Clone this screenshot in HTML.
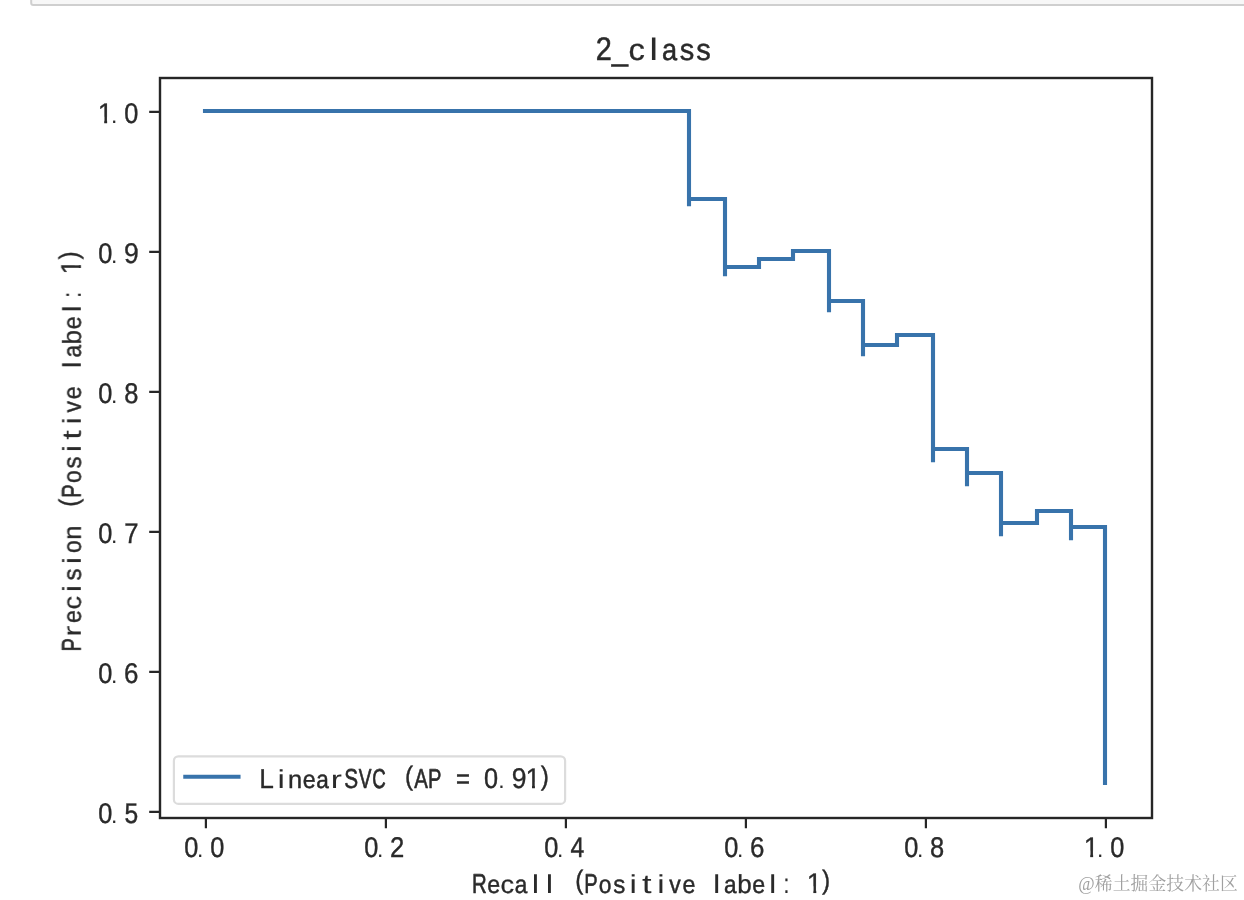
<!DOCTYPE html>
<html lang="en">
<head>
<meta charset="utf-8">
<title>2_class precision-recall curve</title>
<style>
html,body{margin:0;padding:0;background:#fff;}
body{width:1244px;height:900px;overflow:hidden;font-family:"Liberation Sans",sans-serif;}
svg{display:block;}
text{white-space:pre;}
</style>
</head>
<body>
<svg width="1244" height="900" viewBox="0 0 1244 900" role="img" aria-label="Precision-recall curve, 2_class, LinearSVC (AP = 0.91)">
<defs><clipPath id="k1" clipPathUnits="userSpaceOnUse"><path d="M-10 -120H120V-22H34.9V3H24.2V-22H-10Z"/></clipPath><filter id="soft" x="0" y="0" width="1244" height="900" filterUnits="userSpaceOnUse" color-interpolation-filters="sRGB"><feGaussianBlur stdDeviation="0.6"/></filter><filter id="softt" x="0" y="0" width="1244" height="900" filterUnits="userSpaceOnUse" color-interpolation-filters="sRGB"><feGaussianBlur stdDeviation="0.72"/></filter></defs>
<rect width="1244" height="900" fill="#fff"/>
<g filter="url(#soft)">
<rect x="31.2" y="-3" width="1220" height="7.9" rx="2" fill="#f7f7f7" stroke="#cfcfcf" stroke-width="2"/>
<rect x="160.0" y="78.0" width="992.0" height="740.0" fill="none" stroke="#262626" stroke-width="2.4"/>
<path d="M205.9 818.0V828.2M385.9 818.0V828.2M565.9 818.0V828.2M745.9 818.0V828.2M925.9 818.0V828.2M1105.9 818.0V828.2M160.0 111.9H149.2M160.0 251.9H149.2M160.0 391.9H149.2M160.0 531.9H149.2M160.0 671.9H149.2M160.0 811.9H149.2" stroke="#262626" stroke-width="2.2" fill="none"/>
<path d="M1105 783V527H1071V540.3V511H1037V523H1001V536.3V473H967V486.3V449H933V462.3V335H897V345H863V356.3V301H829V312.3V251H793V259H759V267H725V276.3V199H689V206.3V111H205" fill="none" stroke="#3873ab" stroke-width="4.1" stroke-linecap="square" stroke-linejoin="miter"/>
<rect x="173.9" y="756.3" width="391.2" height="47.6" rx="4.5" fill="#fff" fill-opacity=".8" stroke="#dcdcdc" stroke-width="2.2"/>
<path d="M185.2 776.8H238.6" stroke="#3873ab" stroke-width="3.9" stroke-linecap="square"/>
</g>
<g filter="url(#softt)" font-family="'Liberation Sans', sans-serif" font-size="100" text-rendering="geometricPrecision" fill="#2a2a2a" stroke="#2a2a2a" stroke-linejoin="round"><g><text transform="translate(595.68 60.10) scale(0.2882 0.3276)" stroke-width="1.65">2</text><text transform="translate(611.65 59.50) scale(0.2919 0.3276)" stroke-width="1.60">_</text><text transform="translate(628.49 60.10) scale(0.3273 0.3024)" stroke-width="1.03">c</text><text transform="translate(649.14 60.10) scale(0.3972 0.3108)" stroke-width="0.00">l</text><text transform="translate(662.07 60.10) scale(0.2711 0.3024)" stroke-width="1.93">a</text><text transform="translate(679.68 60.10) scale(0.2897 0.3024)" stroke-width="1.63">s</text><text transform="translate(696.30 60.10) scale(0.2897 0.3024)" stroke-width="1.63">s</text></g>
<g><text transform="translate(471.91 892.60) scale(0.2042 0.2730)" stroke-width="2.34">R</text><text transform="translate(487.15 892.60) scale(0.2328 0.2520)" stroke-width="1.80">e</text><text transform="translate(500.51 892.60) scale(0.2727 0.2520)" stroke-width="1.03">c</text><text transform="translate(514.74 892.60) scale(0.2259 0.2520)" stroke-width="1.93">a</text><text transform="translate(531.77 892.60) scale(0.3310 0.2590)" stroke-width="0.00">l</text><text transform="translate(545.72 892.60) scale(0.3310 0.2590)" stroke-width="0.00">l</text><text> </text><text transform="translate(575.17 889.28) scale(0.2442 0.2674)" stroke-width="1.58">(</text><text transform="translate(584.24 892.60) scale(0.2014 0.2730)" stroke-width="2.40">P</text><text transform="translate(598.86 892.60) scale(0.2281 0.2520)" stroke-width="1.89">o</text><text transform="translate(613.22 892.60) scale(0.2414 0.2520)" stroke-width="1.63">s</text><text transform="translate(629.43 892.60) scale(0.3310 0.2590)" stroke-width="0.00">i</text><text transform="translate(642.12 892.60) scale(0.3454 0.2660)" stroke-width="0.00">t</text><text transform="translate(657.33 892.60) scale(0.3310 0.2590)" stroke-width="0.00">i</text><text transform="translate(669.20 892.60) scale(0.2298 0.2520)" stroke-width="1.85">v</text><text transform="translate(682.45 892.60) scale(0.2328 0.2520)" stroke-width="1.80">e</text><text> </text><text transform="translate(713.12 892.60) scale(0.3310 0.2590)" stroke-width="0.00">l</text><text transform="translate(723.99 892.60) scale(0.2259 0.2520)" stroke-width="1.93">a</text><text transform="translate(737.17 892.60) scale(0.2604 0.2590)" stroke-width="1.27">b</text><text transform="translate(752.20 892.60) scale(0.2328 0.2520)" stroke-width="1.80">e</text><text transform="translate(768.92 892.60) scale(0.3310 0.2590)" stroke-width="0.00">l</text><text transform="translate(783.36 892.60) scale(0.2296 0.2730)" stroke-width="0.00">:</text><text> </text><text transform="translate(806.86 892.60) scale(0.2694 0.2856)" stroke-width="1.09" clip-path="url(#k1)">1</text><text transform="translate(822.00 889.28) scale(0.2442 0.2674)" stroke-width="1.58">)</text></g>
<g><text transform="translate(259.16 788.20) scale(0.2626 0.2730)" stroke-width="1.23">L</text><text transform="translate(277.43 788.20) scale(0.3310 0.2590)" stroke-width="0.00">i</text><text transform="translate(287.98 788.20) scale(0.2555 0.2520)" stroke-width="1.36">n</text><text transform="translate(302.65 788.20) scale(0.2328 0.2520)" stroke-width="1.80">e</text><text transform="translate(316.34 788.20) scale(0.2259 0.2520)" stroke-width="1.93">a</text><text transform="translate(330.67 788.20) scale(0.3360 0.2520)" stroke-width="0.00">r</text><text transform="translate(344.16 788.20) scale(0.2082 0.2730)" stroke-width="2.27">S</text><text transform="translate(358.75 788.20) scale(0.1903 0.2730)" stroke-width="2.61">V</text><text transform="translate(372.24 788.20) scale(0.1866 0.2730)" stroke-width="2.68">C</text><text> </text><text transform="translate(404.97 784.88) scale(0.2442 0.2674)" stroke-width="1.58">(</text><text transform="translate(414.30 788.20) scale(0.2039 0.2730)" stroke-width="2.35">A</text><text transform="translate(428.09 788.20) scale(0.2014 0.2730)" stroke-width="2.40">P</text><text> </text><text transform="translate(456.11 788.20) scale(0.2396 0.2730)" stroke-width="1.67">=</text><text> </text><text transform="translate(484.06 788.20) scale(0.2532 0.2856)" stroke-width="1.41">0</text><text transform="translate(498.28 788.20) scale(0.2296 0.2296)" stroke-width="0.00">.</text><text transform="translate(511.71 788.20) scale(0.2661 0.2856)" stroke-width="1.16">9</text><text transform="translate(525.51 788.20) scale(0.2694 0.2856)" stroke-width="1.09" clip-path="url(#k1)">1</text><text transform="translate(540.70 784.88) scale(0.2442 0.2674)" stroke-width="1.58">)</text></g>
<g><text transform="translate(184.26 856.80) scale(0.2532 0.2856)" stroke-width="1.41">0</text><text transform="translate(196.88 856.80) scale(0.2296 0.2296)" stroke-width="0.00">.</text><text transform="translate(210.16 856.80) scale(0.2532 0.2856)" stroke-width="1.41">0</text></g>
<g><text transform="translate(364.26 856.80) scale(0.2532 0.2856)" stroke-width="1.41">0</text><text transform="translate(376.88 856.80) scale(0.2296 0.2296)" stroke-width="0.00">.</text><text transform="translate(390.06 856.80) scale(0.2567 0.2856)" stroke-width="1.34">2</text></g>
<g><text transform="translate(544.26 856.80) scale(0.2532 0.2856)" stroke-width="1.41">0</text><text transform="translate(556.88 856.80) scale(0.2296 0.2296)" stroke-width="0.00">.</text><text transform="translate(570.38 856.80) scale(0.2482 0.2856)" stroke-width="1.50">4</text></g>
<g><text transform="translate(724.26 856.80) scale(0.2532 0.2856)" stroke-width="1.41">0</text><text transform="translate(736.88 856.80) scale(0.2296 0.2296)" stroke-width="0.00">.</text><text transform="translate(749.89 856.80) scale(0.2598 0.2856)" stroke-width="1.28">6</text></g>
<g><text transform="translate(904.26 856.80) scale(0.2532 0.2856)" stroke-width="1.41">0</text><text transform="translate(916.88 856.80) scale(0.2296 0.2296)" stroke-width="0.00">.</text><text transform="translate(930.11 856.80) scale(0.2551 0.2856)" stroke-width="1.37">8</text></g>
<g><text transform="translate(1083.71 856.80) scale(0.2694 0.2856)" stroke-width="1.09" clip-path="url(#k1)">1</text><text transform="translate(1096.88 856.80) scale(0.2296 0.2296)" stroke-width="0.00">.</text><text transform="translate(1110.16 856.80) scale(0.2532 0.2856)" stroke-width="1.41">0</text></g>
<g><text transform="translate(97.71 123.10) scale(0.2694 0.2856)" stroke-width="1.09" clip-path="url(#k1)">1</text><text transform="translate(111.08 123.10) scale(0.2296 0.2296)" stroke-width="0.00">.</text><text transform="translate(124.26 123.10) scale(0.2532 0.2856)" stroke-width="1.41">0</text></g>
<g><text transform="translate(98.26 263.10) scale(0.2532 0.2856)" stroke-width="1.41">0</text><text transform="translate(111.08 263.10) scale(0.2296 0.2296)" stroke-width="0.00">.</text><text transform="translate(123.91 263.10) scale(0.2661 0.2856)" stroke-width="1.16">9</text></g>
<g><text transform="translate(98.26 403.10) scale(0.2532 0.2856)" stroke-width="1.41">0</text><text transform="translate(111.08 403.10) scale(0.2296 0.2296)" stroke-width="0.00">.</text><text transform="translate(124.21 403.10) scale(0.2551 0.2856)" stroke-width="1.37">8</text></g>
<g><text transform="translate(98.26 543.10) scale(0.2532 0.2856)" stroke-width="1.41">0</text><text transform="translate(111.08 543.10) scale(0.2296 0.2296)" stroke-width="0.00">.</text><text transform="translate(124.13 543.10) scale(0.2573 0.2856)" stroke-width="1.33">7</text></g>
<g><text transform="translate(98.26 683.10) scale(0.2532 0.2856)" stroke-width="1.41">0</text><text transform="translate(111.08 683.10) scale(0.2296 0.2296)" stroke-width="0.00">.</text><text transform="translate(123.99 683.10) scale(0.2598 0.2856)" stroke-width="1.28">6</text></g>
<g><text transform="translate(98.26 823.10) scale(0.2532 0.2856)" stroke-width="1.41">0</text><text transform="translate(111.08 823.10) scale(0.2296 0.2296)" stroke-width="0.00">.</text><text transform="translate(124.49 823.10) scale(0.2459 0.2856)" stroke-width="1.54">5</text></g>
<g transform="translate(80.8 0) rotate(-90)"><g><text transform="translate(-651.43 0.00) scale(0.2014 0.2730)" stroke-width="2.40">P</text><text transform="translate(-636.87 0.00) scale(0.3360 0.2520)" stroke-width="0.00">r</text><text transform="translate(-622.91 0.00) scale(0.2328 0.2520)" stroke-width="1.80">e</text><text transform="translate(-609.52 0.00) scale(0.2727 0.2520)" stroke-width="1.03">c</text><text transform="translate(-592.17 0.00) scale(0.3310 0.2590)" stroke-width="0.00">i</text><text transform="translate(-580.45 0.00) scale(0.2414 0.2520)" stroke-width="1.63">s</text><text transform="translate(-564.21 0.00) scale(0.3310 0.2590)" stroke-width="0.00">i</text><text transform="translate(-552.90 0.00) scale(0.2281 0.2520)" stroke-width="1.89">o</text><text transform="translate(-539.70 0.00) scale(0.2555 0.2520)" stroke-width="1.36">n</text><text> </text><text transform="translate(-506.75 -3.32) scale(0.2442 0.2674)" stroke-width="1.58">(</text><text transform="translate(-497.65 0.00) scale(0.2014 0.2730)" stroke-width="2.40">P</text><text transform="translate(-483.00 0.00) scale(0.2281 0.2520)" stroke-width="1.89">o</text><text transform="translate(-468.61 0.00) scale(0.2414 0.2520)" stroke-width="1.63">s</text><text transform="translate(-452.37 0.00) scale(0.3310 0.2590)" stroke-width="0.00">i</text><text transform="translate(-439.65 0.00) scale(0.3454 0.2660)" stroke-width="0.00">t</text><text transform="translate(-424.41 0.00) scale(0.3310 0.2590)" stroke-width="0.00">i</text><text transform="translate(-412.51 0.00) scale(0.2298 0.2520)" stroke-width="1.85">v</text><text transform="translate(-399.23 0.00) scale(0.2328 0.2520)" stroke-width="1.80">e</text><text> </text><text transform="translate(-368.50 0.00) scale(0.3310 0.2590)" stroke-width="0.00">l</text><text transform="translate(-357.60 0.00) scale(0.2259 0.2520)" stroke-width="1.93">a</text><text transform="translate(-344.39 0.00) scale(0.2604 0.2590)" stroke-width="1.27">b</text><text transform="translate(-329.33 0.00) scale(0.2328 0.2520)" stroke-width="1.80">e</text><text transform="translate(-312.58 0.00) scale(0.3310 0.2590)" stroke-width="0.00">l</text><text transform="translate(-298.11 0.00) scale(0.2296 0.2730)" stroke-width="0.00">:</text><text> </text><text transform="translate(-274.55 0.00) scale(0.2694 0.2856)" stroke-width="1.09" clip-path="url(#k1)">1</text><text transform="translate(-259.38 -3.32) scale(0.2442 0.2674)" stroke-width="1.58">)</text></g></g></g>
<g filter="url(#soft)"><g fill="#a0a0a0" aria-label="watermark"><title>juejin community watermark</title><text x="1078.3" y="890.2" font-size="17.8" textLength="159.4" lengthAdjust="spacing" fill="#a0a0a0" font-family="'Liberation Serif', 'Noto Serif CJK SC', serif">@稀土掘金技术社区</text></g></g>
</svg>
</body>
</html>
